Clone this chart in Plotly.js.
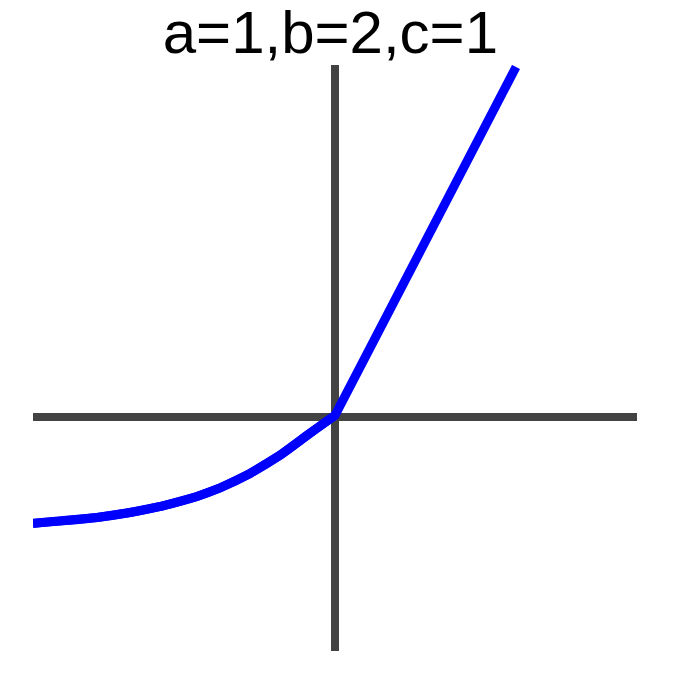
<!DOCTYPE html>
<html>
<head>
<meta charset="utf-8">
<script src="https://cdn.plot.ly/plotly-3.0.1.min.js"></script>
<style>html,body{margin:0;padding:0;background:#fff;}#chart{width:677px;height:677px;}</style>
</head>
<body>
<div id="chart"></div>
<script>
var titleText = "a=1,b=2,c=1";
var xValues = [-3.0, -2.702, -2.364, -2.036, -1.709, -1.371, -1.142, -0.844, -0.546, -0.248, 0, 1.798];
var yValues = [-1.057, -1.032, -0.999, -0.949, -0.883, -0.790, -0.705, -0.561, -0.380, -0.162, 0.015, 3.474];
var kinkIndex = 10; // index of the point at x = 0

var lineStyle = {color: '#0000ff', width: 9};

var traceAll = {
  x: xValues,
  y: yValues,
  type: 'scatter',
  mode: 'lines',
  line: Object.assign({shape: 'linear'}, lineStyle),
  hoverinfo: 'skip'
};

var traceLeftSmooth = {
  x: xValues.slice(0, kinkIndex + 1),
  y: yValues.slice(0, kinkIndex + 1),
  type: 'scatter',
  mode: 'lines',
  line: Object.assign({shape: 'spline', smoothing: 1}, lineStyle),
  hoverinfo: 'skip'
};

var layout = {
  width: 677,
  height: 677,
  margin: {l: 33, r: 40, t: 65, b: 26, pad: 0},
  paper_bgcolor: '#ffffff',
  plot_bgcolor: '#ffffff',
  showlegend: false,
  title: {
    text: titleText,
    font: {family: '"Liberation Sans", Arial, sans-serif', size: 60, color: '#000000'},
    xref: 'container', x: 0.488, xanchor: 'center',
    yref: 'container', y: 0.984, yanchor: 'top'
  },
  xaxis: {
    range: [-3, 3], showgrid: false, showticklabels: false, ticks: '',
    showline: false, zeroline: true, zerolinewidth: 8, zerolinecolor: '#434343',
    fixedrange: true
  },
  yaxis: {
    range: [-2.324, 3.494], showgrid: false, showticklabels: false, ticks: '',
    showline: false, zeroline: true, zerolinewidth: 8, zerolinecolor: '#434343',
    fixedrange: true
  }
};

Plotly.newPlot('chart', [traceAll, traceLeftSmooth], layout, {displayModeBar: false, staticPlot: true});
</script>
</body>
</html>
